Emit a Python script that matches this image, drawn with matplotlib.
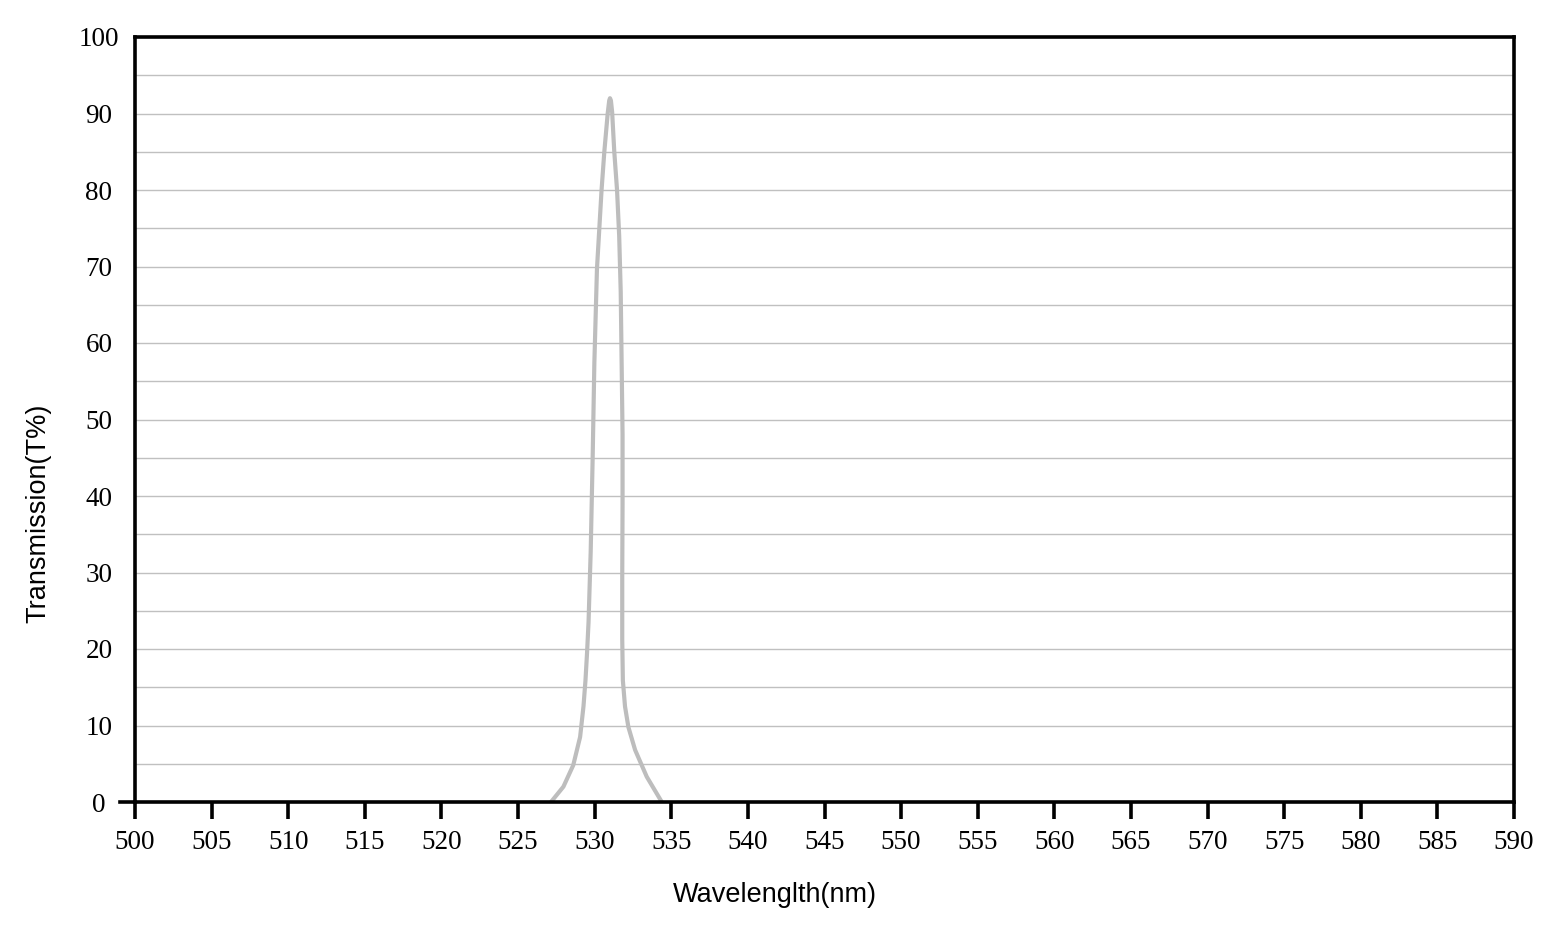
import matplotlib
matplotlib.use("Agg")
import matplotlib.pyplot as plt
import numpy as np

# transmission curve (nm, %T)
wavelength = [527.15, 527.96, 528.6, 529.05, 529.27, 529.4, 529.5, 529.6,
              529.74, 529.87, 529.98, 530.15, 530.45, 530.63, 530.85, 530.95, 531.0,
              531.06, 531.14, 531.28, 531.46, 531.6, 531.7, 531.76, 531.82, 531.82,
              531.8, 531.8, 531.84, 531.98, 532.2, 532.64, 533.4, 534.38]
transmission = [0.0, 2.0, 4.8, 8.5, 12.5, 15.9, 19.4, 23.5,
                32.7, 45.1, 57.4, 69.7, 80.0, 85.0, 90.0, 91.7, 92.0,
                91.7, 90.2, 85.0, 80.0, 74.0, 66.7, 57.4, 48.1, 38.9,
                29.7, 21.2, 15.9, 12.5, 9.8, 6.8, 3.3, 0.0]

x_ticks = list(range(500, 591, 5))
y_ticks = list(range(0, 101, 10))

serif = ['Liberation Serif', 'DejaVu Serif']
sans = ['Liberation Sans', 'DejaVu Sans']

W, H = 1546, 927
fig = plt.figure(figsize=(W / 100, H / 100), dpi=100)
ax = fig.add_axes([135 / W, 1 - 802 / H, (1514 - 135) / W, (802 - 37) / H])

ax.plot(wavelength, transmission, color='#bdbdbd', lw=3,
        solid_capstyle='round', solid_joinstyle='round')

ax.set_xlim(500, 590)
ax.set_ylim(0, 100)
ax.set_xticks(x_ticks)
ax.set_yticks(y_ticks)
ax.set_yticks(np.arange(5, 100, 10), minor=True)
ax.grid(True, which='both', axis='y', color='#c0c0c0', lw=1.0)
ax.set_axisbelow(True)

for s in ax.spines.values():
    s.set_linewidth(2.6)
    s.set_color('black')

ax.tick_params(axis='x', direction='out', length=12, width=2.6, pad=8)
ax.tick_params(axis='y', which='major', length=0, pad=26)
ax.tick_params(axis='y', which='minor', length=0)
# short outward tick at zero, like the source
ax.plot([-0.011, 0], [0, 0], transform=ax.transAxes, color='black', lw=2.6, clip_on=False)

for lab in ax.get_xticklabels() + ax.get_yticklabels():
    lab.set_fontfamily(serif)
    lab.set_fontsize(19.5)
for lab in ax.get_yticklabels():
    lab.set_horizontalalignment('center')

fig.text(775 / W, 1 - 895 / H, 'Wavelenglth(nm)', family=sans, fontsize=19.5,
         ha='center', va='center')
fig.text(38 / W, 1 - 513 / H, 'Transmission(T%)', family=sans, fontsize=19.5,
         ha='center', va='center', rotation=90)

fig.savefig('out.png', dpi=100)
